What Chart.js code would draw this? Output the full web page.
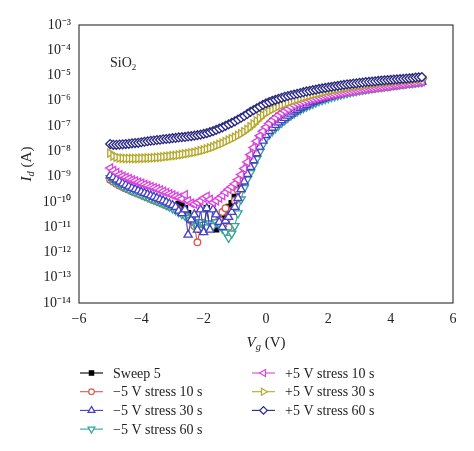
<!DOCTYPE html>
<html>
<head>
<meta charset="utf-8">
<script src="https://cdn.jsdelivr.net/npm/chart.js@4.4.0/dist/chart.umd.min.js"></script>
<style>
  body { margin: 0; background: #ffffff; }
  canvas { display: block; }
</style>
</head>
<body>
<canvas id="chart" width="474" height="451"></canvas>
<script>
// gate voltage sweep (V)
const vg = [
  -5.0, -4.9, -4.8, -4.7, -4.6, -4.5, -4.4, -4.3, -4.2, -4.1,
  -4.0, -3.9, -3.8, -3.7, -3.6, -3.5, -3.4, -3.3, -3.2, -3.1,
  -3.0, -2.9, -2.8, -2.7, -2.6, -2.5, -2.4, -2.3, -2.2, -2.1,
  -2.0, -1.9, -1.8, -1.7, -1.6, -1.5, -1.4, -1.3, -1.2, -1.1,
  -1.0, -0.9, -0.8, -0.7, -0.6, -0.5, -0.4, -0.3, -0.2, -0.1,
  0.0, 0.1, 0.2, 0.3, 0.4, 0.5, 0.6, 0.7, 0.8, 0.9,
  1.0, 1.1, 1.2, 1.3, 1.4, 1.5, 1.6, 1.7, 1.8, 1.9,
  2.0, 2.1, 2.2, 2.3, 2.4, 2.5, 2.6, 2.7, 2.8, 2.9,
  3.0, 3.1, 3.2, 3.3, 3.4, 3.5, 3.6, 3.7, 3.8, 3.9,
  4.0, 4.1, 4.2, 4.3, 4.4, 4.5, 4.6, 4.7, 4.8, 4.9,
  5.0
];

// log10 of drain current Id (A)
const sweep5Log = [
  -9.10, -9.18, -9.26, -9.33, -9.39, -9.45, -9.50, -9.56, -9.61, -9.66,
  -9.71, -9.76, -9.81, -9.86, -9.91, -9.96, -10.01, -10.06, -10.11, -10.16,
  -10.20, -10.15, -10.08, -10.00, -10.25, -10.45, -10.65, -10.85, -11.00, -11.10,
  -11.05, -10.25, -11.03, -11.05, -11.08, -10.90, -10.60, -10.30, -10.20, -10.05,
  -9.80, -9.45, -9.10, -8.80, -8.50, -8.20, -7.92, -7.66, -7.44, -7.25,
  -7.10, -6.95, -6.82, -6.70, -6.60, -6.51, -6.43, -6.35, -6.27, -6.20,
  -6.14, -6.10, -6.06, -6.02, -5.98, -5.95, -5.92, -5.89, -5.86, -5.83,
  -5.81, -5.78, -5.76, -5.73, -5.71, -5.69, -5.67, -5.65, -5.63, -5.61,
  -5.59, -5.57, -5.55, -5.53, -5.52, -5.50, -5.48, -5.47, -5.45, -5.44,
  -5.42, -5.40, -5.39, -5.37, -5.36, -5.34, -5.33, -5.31, -5.30, -5.28,
  -5.27
];
const neg10Log = [
  -9.12, -9.20, -9.28, -9.35, -9.41, -9.47, -9.52, -9.58, -9.63, -9.68,
  -9.73, -9.78, -9.83, -9.88, -9.93, -9.98, -10.03, -10.08, -10.13, -10.18,
  -10.22, -10.22, -10.30, -10.40, -10.50, -10.60, -10.75, -10.95, -11.60, -11.00,
  -10.90, -10.95, -11.00, -10.90, -10.85, -10.70, -10.40, -10.25, -11.00, -10.35,
  -9.95, -9.55, -9.20, -8.86, -8.55, -8.25, -7.96, -7.70, -7.47, -7.28,
  -7.12, -6.97, -6.84, -6.72, -6.61, -6.52, -6.44, -6.36, -6.28, -6.21,
  -6.15, -6.11, -6.07, -6.03, -5.99, -5.96, -5.93, -5.90, -5.87, -5.84,
  -5.82, -5.79, -5.77, -5.74, -5.72, -5.70, -5.68, -5.66, -5.64, -5.62,
  -5.60, -5.58, -5.56, -5.54, -5.53, -5.51, -5.49, -5.48, -5.46, -5.45,
  -5.43, -5.41, -5.40, -5.38, -5.37, -5.35, -5.34, -5.32, -5.31, -5.29,
  -5.28
];
const neg30Log = [
  -8.95, -9.03, -9.12, -9.20, -9.27, -9.33, -9.39, -9.45, -9.50, -9.55,
  -9.60, -9.65, -9.70, -9.75, -9.80, -9.85, -9.90, -9.95, -10.01, -10.07,
  -10.13, -10.20, -10.35, -10.45, -10.30, -11.30, -10.70, -10.50, -11.10, -10.30,
  -11.20, -10.25, -11.10, -10.30, -10.50, -10.80, -11.00, -10.75, -10.60, -10.40,
  -10.20, -9.85, -9.50, -9.20, -8.90, -8.62, -8.35, -8.08, -7.82, -7.58,
  -7.36, -7.20, -7.07, -6.96, -6.86, -6.77, -6.68, -6.59, -6.51, -6.43,
  -6.36, -6.29, -6.23, -6.17, -6.11, -6.06, -6.01, -5.97, -5.93, -5.89,
  -5.85, -5.82, -5.78, -5.75, -5.72, -5.69, -5.66, -5.63, -5.61, -5.58,
  -5.56, -5.54, -5.52, -5.50, -5.48, -5.46, -5.44, -5.42, -5.41, -5.39,
  -5.37, -5.36, -5.34, -5.33, -5.31, -5.30, -5.28, -5.27, -5.26, -5.25,
  -5.24
];
const neg60Log = [
  -9.05, -9.13, -9.22, -9.30, -9.37, -9.43, -9.49, -9.55, -9.60, -9.65,
  -9.70, -9.75, -9.80, -9.85, -9.90, -9.95, -10.00, -10.06, -10.12, -10.18,
  -10.25, -10.32, -10.40, -10.48, -10.55, -10.62, -10.70, -10.85, -10.95, -10.80,
  -10.90, -11.00, -10.85, -10.95, -10.80, -10.90, -11.05, -11.20, -11.42, -11.25,
  -10.95, -10.45, -9.90, -9.45, -9.10, -8.85, -8.57, -8.30, -8.02, -7.73,
  -7.48, -7.33, -7.20, -7.08, -6.97, -6.87, -6.77, -6.67, -6.58, -6.50,
  -6.42, -6.35, -6.28, -6.22, -6.16, -6.11, -6.06, -6.01, -5.97, -5.93,
  -5.89, -5.85, -5.82, -5.78, -5.75, -5.72, -5.69, -5.66, -5.63, -5.61,
  -5.58, -5.56, -5.54, -5.52, -5.50, -5.48, -5.46, -5.44, -5.42, -5.41,
  -5.39, -5.37, -5.36, -5.34, -5.33, -5.31, -5.30, -5.29, -5.27, -5.26,
  -5.25
];
const pos10Log = [
  -8.66, -8.76, -8.84, -8.92, -8.98, -9.03, -9.08, -9.13, -9.17, -9.22,
  -9.26, -9.31, -9.35, -9.40, -9.44, -9.48, -9.53, -9.58, -9.63, -9.68,
  -9.73, -9.78, -9.83, -9.88, -9.72, -9.95, -10.05, -10.08, -10.02, -9.95,
  -9.85, -9.78, -9.90, -10.02, -9.95, -9.85, -9.75, -9.62, -9.50, -9.40,
  -9.28, -9.12, -8.92, -8.68, -8.42, -8.13, -7.85, -7.60, -7.38, -7.20,
  -7.04, -6.90, -6.78, -6.67, -6.57, -6.48, -6.40, -6.32, -6.24, -6.17,
  -6.11, -6.07, -6.03, -5.99, -5.95, -5.92, -5.89, -5.86, -5.83, -5.80,
  -5.78, -5.75, -5.73, -5.70, -5.68, -5.66, -5.64, -5.62, -5.60, -5.58,
  -5.56, -5.54, -5.52, -5.50, -5.49, -5.47, -5.45, -5.44, -5.42, -5.41,
  -5.39, -5.37, -5.36, -5.34, -5.33, -5.31, -5.30, -5.28, -5.27, -5.25,
  -5.24
];
const pos30Log = [
  -8.07, -8.18, -8.23, -8.26, -8.27, -8.28, -8.28, -8.28, -8.28, -8.28,
  -8.27, -8.27, -8.26, -8.26, -8.25, -8.24, -8.23, -8.22, -8.20, -8.19,
  -8.17, -8.16, -8.14, -8.12, -8.10, -8.08, -8.06, -8.04, -8.01, -7.98,
  -7.95, -7.91, -7.87, -7.83, -7.78, -7.73, -7.68, -7.62, -7.56, -7.50,
  -7.44, -7.37, -7.30, -7.22, -7.13, -7.03, -6.92, -6.80, -6.68, -6.57,
  -6.48, -6.41, -6.34, -6.28, -6.22, -6.17, -6.12, -6.07, -6.02, -5.98,
  -5.94, -5.90, -5.86, -5.82, -5.79, -5.75, -5.72, -5.69, -5.66, -5.63,
  -5.60, -5.58, -5.55, -5.53, -5.51, -5.48, -5.46, -5.44, -5.42, -5.40,
  -5.38, -5.37, -5.35, -5.33, -5.32, -5.30, -5.29, -5.27, -5.26, -5.25,
  -5.23, -5.22, -5.21, -5.20, -5.18, -5.17, -5.16, -5.15, -5.14, -5.13,
  -5.12
];
const pos60Log = [
  -7.71, -7.74, -7.74, -7.73, -7.72, -7.71, -7.70, -7.68, -7.67, -7.66,
  -7.64, -7.62, -7.60, -7.58, -7.57, -7.55, -7.54, -7.52, -7.51, -7.50,
  -7.48, -7.47, -7.45, -7.44, -7.43, -7.41, -7.40, -7.38, -7.36, -7.34,
  -7.31, -7.28, -7.24, -7.20, -7.15, -7.10, -7.05, -6.99, -6.93, -6.87,
  -6.81, -6.74, -6.67, -6.60, -6.52, -6.44, -6.37, -6.30, -6.23, -6.16,
  -6.10, -6.05, -6.00, -5.96, -5.92, -5.88, -5.84, -5.81, -5.78, -5.75,
  -5.72, -5.69, -5.66, -5.63, -5.61, -5.58, -5.56, -5.53, -5.51, -5.49,
  -5.47, -5.45, -5.43, -5.41, -5.39, -5.37, -5.35, -5.34, -5.32, -5.31,
  -5.29, -5.28, -5.26, -5.25, -5.24, -5.23, -5.21, -5.20, -5.19, -5.18,
  -5.17, -5.16, -5.15, -5.14, -5.13, -5.12, -5.11, -5.10, -5.08, -5.07,
  -5.06
];

const seriesNames = [
  'Sweep 5', '−5 V stress 10 s', '−5 V stress 30 s', '−5 V stress 60 s',
  '+5 V stress 10 s', '+5 V stress 30 s', '+5 V stress 60 s'
];
const seriesLogs = [sweep5Log, neg10Log, neg30Log, neg60Log, pos10Log, pos30Log, pos60Log];
const seriesColors = ['#000000', '#d95a4e', '#4540c4', '#33a597', '#dd45dd', '#b5a92c', '#29277f'];
const seriesMarkers = ['rect', 'circle', 'triangle', 'triangle', 'triangle', 'triangle', 'rectRot'];
const markerRotation = [0, 0, 0, 180, 270, 90, 0];
const markerRadius = [3.6, 3.3, 4.7, 4.7, 4.7, 4.7, 4.4];
const markerFill = ['#000000', '#ffffff', '#ffffff', '#ffffff', '#ffffff', '#ffffff', '#ffffff'];
const drawOrder = [6, 5, 3, 4, 2, 1, 0]; // lower number is painted on top

const xTickValues = [-6, -4, -2, 0, 2, 4, 6];
const yTickValues = [1e-14, 1e-13, 1e-12, 1e-11, 1e-10, 1e-9, 1e-8, 1e-7, 1e-6, 1e-5, 1e-4, 1e-3];
const yTickLabels = ['10⁻¹⁴', '10⁻¹³', '10⁻¹²', '10⁻¹¹', '10⁻¹⁰', '10⁻⁹', '10⁻⁸', '10⁻⁷', '10⁻⁶', '10⁻⁵', '10⁻⁴', '10⁻³'];

const serif = "'Liberation Serif', 'Times New Roman', serif";

function buildDatasets() {
    return seriesNames.map((name, i) => ({
        label: name,
        data: vg.map((v, k) => ({ x: v, y: Math.pow(10, seriesLogs[i][k]) })),
        showLine: true,
        borderColor: seriesColors[i],
        backgroundColor: seriesColors[i],
        borderWidth: 1.1,
        pointStyle: seriesMarkers[i],
        pointRotation: markerRotation[i],
        pointRadius: markerRadius[i],
        pointBorderWidth: 1.35,
        pointBorderColor: seriesColors[i],
        pointBackgroundColor: markerFill[i],
        order: drawOrder[i]
    }));
}

// frame, axis titles with subscripts, SiO2 note and the two-column legend
const decorPlugin = {
    id: 'decor',
    afterDraw(chart) {
        const ctx = chart.ctx;
        const a = chart.chartArea;
        ctx.save();
        ctx.strokeStyle = '#3c3c3c';
        ctx.lineWidth = 1.2;
        ctx.strokeRect(a.left, a.top, a.right - a.left, a.bottom - a.top);

        ctx.fillStyle = '#222';
        ctx.textBaseline = 'alphabetic';

        // SiO2
        ctx.textAlign = 'left';
        ctx.font = `14px ${serif}`;
        ctx.fillText('SiO', 110, 67);
        let w = ctx.measureText('SiO').width;
        ctx.font = `9px ${serif}`;
        ctx.fillText('2', 110 + w, 70);

        // x title: Vg (V)
        drawSubTitle(ctx, 'V', 'g', ' (V)', (a.left + a.right) / 2, 342, 0);
        // y title: Id (A)
        drawSubTitle(ctx, 'I', 'd', ' (A)', 26, (a.top + a.bottom) / 2, -Math.PI / 2);

        drawLegend(chart, ctx);
        ctx.restore();
    }
};

function drawSubTitle(ctx, main, sub, rest, cx, cy, angle) {
    const big = 15, small = 10.5;
    ctx.save();
    ctx.translate(cx, cy);
    ctx.rotate(angle);
    ctx.font = `italic ${big}px ${serif}`;
    const w1 = ctx.measureText(main).width;
    ctx.font = `italic ${small}px ${serif}`;
    const w2 = ctx.measureText(sub).width;
    ctx.font = `${big}px ${serif}`;
    const w3 = ctx.measureText(rest).width;
    let x = -(w1 + w2 + w3) / 2;
    const base = 5;
    ctx.textAlign = 'left';
    ctx.font = `italic ${big}px ${serif}`;
    ctx.fillText(main, x, base);
    x += w1;
    ctx.font = `italic ${small}px ${serif}`;
    ctx.fillText(sub, x, base + 3);
    x += w2;
    ctx.font = `${big}px ${serif}`;
    ctx.fillText(rest, x, base);
    ctx.restore();
}

function drawLegend(chart, ctx) {
    const colX = [80, 252];
    const rowY = 373;
    const rowStep = 18.7;
    ctx.font = `14px ${serif}`;
    ctx.textAlign = 'left';
    ctx.textBaseline = 'middle';
    chart.data.datasets.forEach((ds, i) => {
        const col = i < 4 ? 0 : 1;
        const row = i < 4 ? i : i - 4;
        const x0 = colX[col];
        const y = rowY + row * rowStep;
        ctx.strokeStyle = ds.borderColor;
        ctx.lineWidth = 1.1;
        ctx.beginPath();
        ctx.moveTo(x0, y);
        ctx.lineTo(x0 + 23, y);
        ctx.stroke();
        ctx.fillStyle = ds.pointBackgroundColor;
        ctx.strokeStyle = ds.pointBorderColor;
        ctx.lineWidth = 1.2;
        Chart.helpers.drawPoint(ctx, {
            pointStyle: ds.pointStyle,
            rotation: ds.pointRotation,
            radius: ds.pointRadius * 0.85,
            borderWidth: 1.2
        }, x0 + 11.5, y);
        ctx.fillStyle = '#222';
        ctx.fillText(ds.label, x0 + 33, y + 1);
    });
}

const ctx = document.getElementById('chart');
new Chart(ctx, {
    type: 'scatter',
    data: { datasets: buildDatasets() },
    plugins: [decorPlugin],
    options: {
        responsive: false,
        animation: false,
        events: [],
        layout: { padding: { top: 25, right: 21, left: 0, bottom: 0 } },
        plugins: {
            legend: { display: false },
            tooltip: { enabled: false }
        },
        scales: {
            x: {
                type: 'linear',
                min: -6,
                max: 6,
                grid: { display: false, drawTicks: false },
                border: { display: false },
                afterBuildTicks: (scale) => {
                    scale.ticks = xTickValues.map(v => ({ value: v }));
                },
                afterFit: (scale) => { scale.height = 148; },
                ticks: {
                    padding: 8,
                    color: '#222',
                    font: { family: serif, size: 14 },
                    callback: (value) => String(value).replace('-', '−')
                }
            },
            y: {
                type: 'logarithmic',
                min: 1e-14,
                max: 1e-3,
                grid: { display: false, drawTicks: false },
                border: { display: false },
                afterBuildTicks: (scale) => {
                    scale.ticks = yTickValues.map(v => ({ value: v }));
                },
                afterFit: (scale) => { scale.width = 79; },
                ticks: {
                    padding: 8,
                    color: '#222',
                    font: { family: serif, size: 14 },
                    callback: (value, index) => yTickLabels[index]
                }
            }
        }
    }
});
</script>
</body>
</html>
